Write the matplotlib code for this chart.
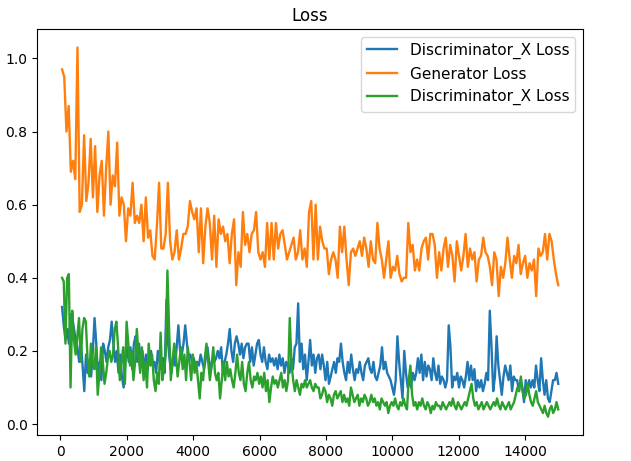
import numpy as np
import matplotlib.pyplot as plt

# loss values (left to right)
g_loss = [0.97, 0.95, 0.80, 0.87, 0.69, 0.72, 0.67, 1.03, 0.58, 0.60, 0.79, 0.61, 0.66,
          0.78, 0.62, 0.76, 0.58, 0.68, 0.72, 0.57, 0.70, 0.80, 0.60, 0.68, 0.65, 0.77, 0.57, 0.62, 0.60,
          0.50, 0.59, 0.57, 0.66, 0.55, 0.57, 0.55, 0.60, 0.50, 0.62, 0.51, 0.53, 0.46, 0.45, 0.54, 0.66,
          0.48, 0.48, 0.52, 0.66, 0.50, 0.45, 0.47,
          0.53, 0.45, 0.48, 0.52, 0.52, 0.54, 0.61, 0.58, 0.56, 0.59, 0.47, 0.59, 0.44, 0.54, 0.59, 0.55,
          0.45, 0.57, 0.43, 0.56, 0.52, 0.54, 0.50, 0.52, 0.44, 0.52, 0.56, 0.38, 0.47, 0.43, 0.58, 0.49,
          0.52, 0.47, 0.52, 0.53, 0.58, 0.47, 0.45, 0.47, 0.43, 0.55, 0.45, 0.55, 0.45, 0.55, 0.48, 0.52,
          0.53, 0.49, 0.45, 0.47, 0.49, 0.51, 0.45, 0.47, 0.53, 0.45, 0.48, 0.43,
          0.58, 0.61, 0.45, 0.60, 0.45, 0.54, 0.50, 0.48, 0.48, 0.41, 0.45, 0.47, 0.45, 0.40, 0.54, 0.47,
          0.54, 0.45, 0.38, 0.47, 0.48, 0.46, 0.48, 0.50, 0.46, 0.51, 0.48, 0.43, 0.50, 0.45, 0.44, 0.55,
          0.48, 0.45, 0.40, 0.45, 0.50, 0.40, 0.43, 0.42, 0.46, 0.41,
          0.39, 0.40, 0.40, 0.55, 0.47, 0.49, 0.42, 0.45, 0.42, 0.48, 0.50, 0.51, 0.45, 0.52, 0.52, 0.49,
          0.40, 0.47, 0.42, 0.48, 0.51, 0.43, 0.49, 0.46, 0.39, 0.50, 0.46, 0.42, 0.46, 0.52, 0.43, 0.48,
          0.45, 0.47, 0.39, 0.45, 0.46, 0.51, 0.47, 0.46, 0.43, 0.38, 0.47, 0.45, 0.35, 0.43, 0.40, 0.44,
          0.51, 0.45, 0.40, 0.46, 0.44, 0.49, 0.41, 0.44, 0.46, 0.40, 0.44, 0.42, 0.45, 0.35, 0.48, 0.46,
          0.47, 0.52, 0.45, 0.52, 0.50, 0.45, 0.41, 0.38]

dx_loss = [0.32, 0.27, 0.23, 0.26, 0.22, 0.30, 0.29, 0.26, 0.23, 0.21, 0.17, 0.22, 0.16, 0.09, 0.19, 0.14,
           0.17, 0.13, 0.20, 0.29, 0.22, 0.13, 0.17, 0.12, 0.22, 0.20, 0.17, 0.21, 0.23, 0.28, 0.22, 0.17,
           0.20, 0.14, 0.19, 0.13, 0.10, 0.17, 0.21, 0.17, 0.21, 0.15, 0.22, 0.24, 0.17, 0.22, 0.17, 0.20,
           0.14, 0.19, 0.15, 0.18, 0.20, 0.16, 0.17, 0.14, 0.20, 0.17, 0.15, 0.18, 0.14, 0.34, 0.22, 0.17,
           0.14, 0.19, 0.16, 0.21, 0.27, 0.20,
           0.19, 0.22, 0.27, 0.22, 0.18, 0.19, 0.17, 0.18, 0.16, 0.17, 0.16, 0.19, 0.17, 0.15, 0.18, 0.21,
           0.17, 0.15, 0.18, 0.17, 0.18, 0.20, 0.18, 0.21, 0.14, 0.17, 0.19, 0.22, 0.26, 0.20, 0.17, 0.22,
           0.24, 0.22, 0.19, 0.22, 0.18, 0.21, 0.22, 0.22, 0.17, 0.21, 0.16, 0.19, 0.22, 0.23, 0.19, 0.17,
           0.21, 0.17, 0.15, 0.19, 0.17, 0.18, 0.16, 0.18, 0.15, 0.19, 0.16, 0.18, 0.14, 0.17, 0.16, 0.14,
           0.18, 0.15, 0.21, 0.22, 0.33,
           0.17, 0.22, 0.15, 0.19, 0.12, 0.17, 0.23, 0.16, 0.19, 0.14, 0.18, 0.19, 0.15, 0.19, 0.16, 0.12,
           0.17, 0.11, 0.13, 0.15, 0.17, 0.14, 0.18, 0.17, 0.22, 0.17, 0.14, 0.12, 0.17, 0.14, 0.19, 0.15,
           0.12, 0.15, 0.14, 0.17, 0.14, 0.12, 0.16, 0.17, 0.18, 0.15, 0.14, 0.17, 0.13, 0.12, 0.14, 0.16,
           0.21, 0.15, 0.17, 0.14, 0.13, 0.12, 0.10, 0.08, 0.12, 0.24, 0.17, 0.12,
           0.07, 0.20, 0.14, 0.10, 0.12, 0.10, 0.14, 0.12, 0.14, 0.18, 0.14, 0.19, 0.12, 0.17, 0.13, 0.16,
           0.15, 0.12, 0.18, 0.14, 0.12, 0.16, 0.11, 0.13, 0.12, 0.10, 0.12, 0.27, 0.21, 0.10, 0.13, 0.12,
           0.14, 0.10, 0.13, 0.12, 0.10, 0.13, 0.17, 0.12, 0.16, 0.12, 0.15, 0.09, 0.12, 0.10, 0.12, 0.09,
           0.11, 0.14, 0.12, 0.31, 0.21, 0.09, 0.13, 0.24, 0.16, 0.12, 0.08, 0.13, 0.16, 0.14, 0.12, 0.16,
           0.09, 0.13, 0.12, 0.12, 0.09, 0.12, 0.10, 0.06, 0.12, 0.09, 0.12, 0.10, 0.12, 0.10, 0.16, 0.12,
           0.09, 0.18, 0.12, 0.08, 0.12, 0.07, 0.06, 0.09, 0.12, 0.12, 0.14, 0.11]

dx2_loss = [0.40, 0.39, 0.22, 0.40, 0.41, 0.10, 0.31, 0.23, 0.19, 0.24, 0.29, 0.17, 0.26, 0.29, 0.28, 0.18,
            0.13, 0.22, 0.17, 0.15, 0.21, 0.08, 0.14, 0.21, 0.17, 0.11, 0.14, 0.18, 0.20, 0.17, 0.19, 0.26,
            0.28, 0.21, 0.12, 0.17, 0.21, 0.11, 0.28, 0.22, 0.16, 0.20, 0.12, 0.17, 0.26, 0.19, 0.14, 0.21,
            0.12, 0.17, 0.10, 0.22, 0.16, 0.19, 0.12, 0.09, 0.14, 0.11, 0.25, 0.12, 0.15, 0.19, 0.42, 0.26,
            0.12, 0.17, 0.22, 0.19, 0.13, 0.17, 0.21, 0.15, 0.19,
            0.12, 0.21, 0.17, 0.12, 0.19, 0.14, 0.17, 0.12, 0.07, 0.14, 0.12, 0.18, 0.22, 0.17, 0.12, 0.16,
            0.21, 0.14, 0.12, 0.14, 0.07, 0.12, 0.17, 0.12, 0.17, 0.13, 0.15, 0.12, 0.10, 0.14, 0.19, 0.14,
            0.12, 0.17, 0.11, 0.09, 0.14, 0.17, 0.12, 0.10, 0.13, 0.12, 0.14, 0.11, 0.13, 0.10, 0.14, 0.09,
            0.12, 0.06, 0.10, 0.13, 0.11, 0.12, 0.10, 0.12, 0.14, 0.10, 0.12, 0.09, 0.12, 0.29, 0.17, 0.12,
            0.09, 0.12, 0.10, 0.08, 0.11, 0.10, 0.12, 0.10, 0.11, 0.12, 0.10, 0.09, 0.11, 0.10,
            0.10, 0.07, 0.08, 0.10, 0.09, 0.06, 0.08, 0.07, 0.05, 0.08, 0.09, 0.07, 0.08, 0.09, 0.06, 0.08,
            0.06, 0.07, 0.05, 0.10, 0.08, 0.06, 0.07, 0.08, 0.05, 0.07, 0.06, 0.08, 0.07, 0.05, 0.06, 0.08,
            0.06, 0.07, 0.05, 0.06, 0.04, 0.07, 0.06, 0.05, 0.06, 0.03, 0.05, 0.06, 0.05, 0.07, 0.05, 0.04,
            0.06, 0.05, 0.07, 0.05, 0.04, 0.12, 0.16, 0.08, 0.05, 0.06, 0.04, 0.06, 0.05, 0.07, 0.05, 0.04,
            0.06, 0.05, 0.03, 0.05, 0.04, 0.06, 0.05,
            0.05, 0.04, 0.06, 0.05, 0.04, 0.05, 0.06, 0.05, 0.07, 0.05, 0.04, 0.06, 0.05, 0.04, 0.05, 0.06,
            0.05, 0.07, 0.09, 0.11, 0.07, 0.05, 0.06, 0.04, 0.05, 0.06, 0.04, 0.05, 0.06, 0.05, 0.04, 0.05,
            0.06, 0.05, 0.07, 0.05, 0.04, 0.06, 0.05, 0.04, 0.05, 0.06, 0.04, 0.05, 0.06, 0.08, 0.10, 0.09,
            0.13, 0.09, 0.07, 0.08, 0.11, 0.08, 0.06, 0.05, 0.07, 0.09, 0.06, 0.05, 0.04, 0.03, 0.05, 0.03,
            0.02, 0.04, 0.05, 0.03, 0.04, 0.06, 0.04]

# iteration at which each value was logged
it_g = np.linspace(50, 15000, len(g_loss))
it_dx = np.linspace(50, 15000, len(dx_loss))
it_dx2 = np.linspace(50, 15000, len(dx2_loss))

fig = plt.figure(figsize=(6.31, 4.61), dpi=100)
plt.subplots_adjust(left=0.059, right=0.924, bottom=0.056, top=0.937)
plt.plot(it_dx, dx_loss, label='Discriminator_X Loss', lw=1.7)
plt.plot(it_g, g_loss, label='Generator Loss', lw=1.7)
plt.plot(it_dx2, dx2_loss, label='Discriminator_X Loss', lw=1.7)
plt.title('Loss')
plt.legend(loc='upper right', fontsize=11)
plt.savefig('out.png')
